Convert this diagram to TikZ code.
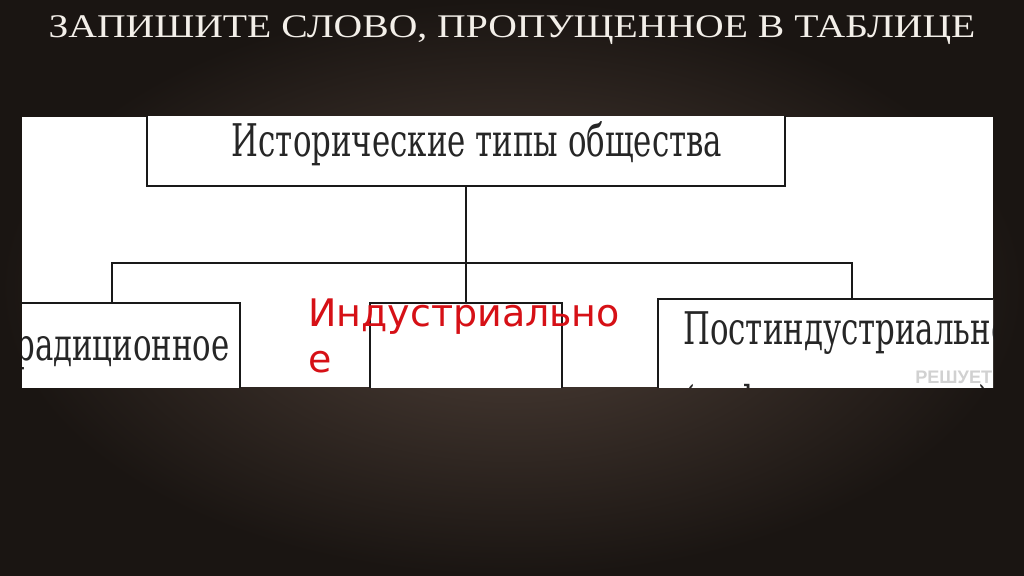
\documentclass[tikz,border=0pt]{standalone}
\usepackage{fontspec}
\setmainfont{Liberation Serif}
\newfontfamily\slabfont{DejaVu Serif}
\newfontfamily\redfont{DejaVu Sans}
\newfontfamily\markfont{Liberation Sans}
\usetikzlibrary{positioning}
\definecolor{bginner}{RGB}{80,65,57}
\definecolor{bgouter}{RGB}{26,21,18}
\definecolor{answerred}{RGB}{214,16,22}
\definecolor{titlewhite}{RGB}{243,239,233}
\newcommand{\slab}[1]{{\slabfont\fontsize{32}{52}\selectfont\scalebox{0.685}[1]{#1}}}
\tikzset{
	cell/.style={draw=black!90, line width=1.7pt, fill=white, inner sep=0pt},
	branch/.style={draw=black!90, line width=1.7pt},
	slabtext/.style={inner sep=0pt, text=black!85},
}

\begin{document}
\begin{tikzpicture}[x=0.025cm, y=-0.025cm]
	\shade[inner color=bginner, outer color=bgouter] (0,0) rectangle (1024,576);
	\useasboundingbox (0,0) rectangle (1024,576);
	\node[anchor=base, text=titlewhite, inner sep=0pt] (title) at (512,38)
		{\fontsize{23.5}{28}\selectfont\scalebox{1.2}[1]{ЗАПИШИТЕ СЛОВО, ПРОПУЩЕННОЕ В ТАБЛИЦЕ}};
	\fill[white] (22,117) rectangle (993,387);
	\begin{scope}
		\clip (22,117) rectangle (993,387);
		\node[cell, minimum width=15.95cm, minimum height=2.4cm] (types) at (466,138) {};
		\node[cell, minimum width=6.4cm, minimum height=2.925cm] (traditional) at (112,361.5) {};
		\node[cell, minimum width=4.8cm, minimum height=2.925cm] (industrial) at (466,361.5) {};
		\node[cell, minimum width=9.7cm, minimum height=3.025cm] (postindustrial) at (852,359.5) {};
		\coordinate (bus) at (466,263);
		\draw[branch] (types.south) -- (industrial.north);
		\draw[branch] (traditional.north) |- (bus) -| (postindustrial.north);
		\node[slabtext, anchor=base] (typesLabel) at (477,157) {\slab{Исторические типы общества}};
		\node[slabtext, anchor=base east] (tradLabel) at (230,360) {\slab{Традиционное}};
		\node[slabtext, anchor=base west] (postLabel) at (683,345)
			{\slab{\begin{tabular}[t]{@{}l@{}}Постиндустриальное\\(информационное)\end{tabular}}};
		\node[anchor=base west, text=black!18, inner sep=0pt, font=\markfont\bfseries\fontsize{12.9}{15}\selectfont] (mark) at (915,383) {РЕШУЕТ};
	\end{scope}
	\node[anchor=base west, text=answerred, align=left, inner sep=0pt, font=\redfont\fontsize{27}{32.7}\selectfont] (answer) at (308,372) {Индустриально\\е};
\end{tikzpicture}
\end{document}
